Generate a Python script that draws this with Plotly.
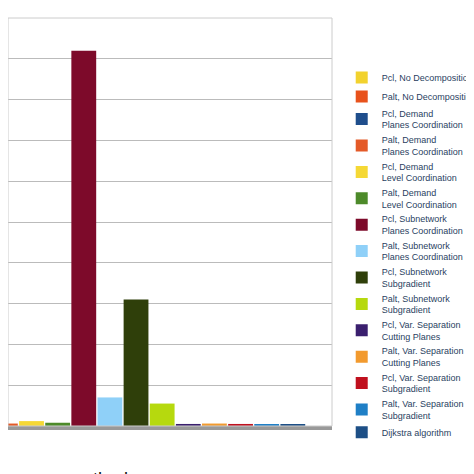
import plotly.graph_objects as go

# method labels (legend), bar heights and colours
methods = [
    "Pcl, No Decomposition", "Palt, No Decomposition",
    "Pcl, Demand<br>Planes Coordination", "Palt, Demand<br>Planes Coordination",
    "Pcl, Demand<br>Level Coordination", "Palt, Demand<br>Level Coordination",
    "Pcl, Subnetwork<br>Planes Coordination", "Palt, Subnetwork<br>Planes Coordination",
    "Pcl, Subnetwork<br>Subgradient", "Palt, Subnetwork<br>Subgradient",
    "Pcl, Var. Separation<br>Cutting Planes", "Palt, Var. Separation<br>Cutting Planes",
    "Pcl, Var. Separation<br>Subgradient", "Palt, Var. Separation<br>Subgradient",
    "Dijkstra algorithm",
]
values = [0.05, 0.06, 0.05, 0.06, 0.12, 0.08, 9.2, 0.7, 3.1, 0.55,
          0.05, 0.06, 0.05, 0.04, 0.04]
colors = ["#f2d22e", "#e8521c", "#1f4e8c", "#e45a28", "#f5d835", "#4d8a2a",
          "#7d0a2a", "#8fd0f8", "#2f3f0a", "#b6d90e", "#3a1f6e", "#f29a2e",
          "#c0101e", "#1f7fc6", "#1d4f86"]

fig = go.Figure()
for i, (m, v, c) in enumerate(zip(methods, values, colors)):
    fig.add_trace(go.Bar(x=[i], y=[v], name=m, marker_color=c, width=0.95,
                         marker_line_width=0))

fig.update_layout(
    width=474, height=474,
    margin=dict(l=0, r=89, t=10, b=56),
    plot_bgcolor="white", paper_bgcolor="white",
    showlegend=True,
    legend=dict(x=1.03, y=0.89, yanchor="top", font=dict(size=9, family="Liberation Sans"),
                tracegroupgap=0, itemwidth=30, bgcolor="rgba(0,0,0,0)"),
    xaxis=dict(range=[3.1, 15.5], showticklabels=False, showgrid=False,
               showline=True, linecolor="#999", linewidth=4),
    yaxis=dict(range=[0, 10], dtick=1, showticklabels=False, gridcolor="#bbb",
               showline=False, zeroline=False),
    annotations=[dict(text="method", x=107 / 385, y=-0.1, xref="paper", yref="paper",
                      xanchor="center", yanchor="top", showarrow=False,
                      font=dict(size=18, family="Liberation Sans", color="#111"))],
)
fig.add_shape(type="rect", xref="paper", yref="paper", x0=0, x1=1, y0=0, y1=1,
              line=dict(color="#ccc", width=1))
fig.write_html("out.html")
